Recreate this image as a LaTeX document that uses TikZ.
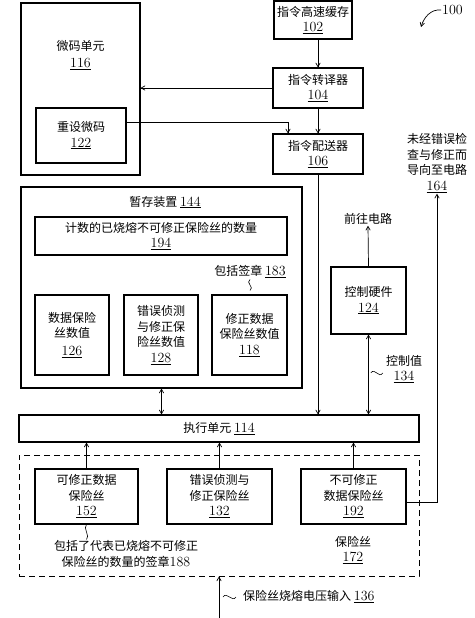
\documentclass[tikz,border=0pt]{standalone}
\usepackage{fontspec}
\newfontfamily\cjk{Noto Sans CJK SC}
\usetikzlibrary{arrows,positioning}
\newcommand{\refno}[1]{{\rmfamily\fontsize{14}{16}\selectfont\underline{#1}}}

\begin{document}
\begin{tikzpicture}[
        x=1pt, y=-1pt,
        box/.style={draw, line width=1.1pt, inner sep=1pt, align=center},
        txt/.style={align=center, inner sep=1pt},
        arrow/.style={->, >=angle 60, line width=0.7pt},
        darrow/.style={<->, >=angle 60, line width=0.7pt},
        squig/.style={line width=0.6pt},
        every node/.style={font=\cjk\fontsize{12}{15.5}\selectfont}
    ]
    \useasboundingbox (0,0) rectangle (474,618);

    % Microcode unit
    \node[box, minimum width=119, minimum height=172] (mc) at (80.5,89) {};
    \node[txt] (mctxt) at (80.5,55) {微码单元\\[2pt]\refno{116}};
    \node[box, minimum width=90, minimum height=55] (rmc) at (81,135.5) {重设微码\\\refno{122}};

    % Instruction path
    \node[box, minimum width=78, minimum height=38] (ic) at (313,20) {指令高速缓存\\\refno{102}};
    \node[box, minimum width=90, minimum height=40] (it) at (318,88) {指令转译器\\\refno{104}};
    \node[box, minimum width=90, minimum height=40] (id) at (318,154) {指令配送器\\\refno{106}};
    \node[txt, anchor=west] (lbl100) at (441,10) {\rmfamily\fontsize{14}{16}\selectfont 100};

    % Temporary storage
    \node[box, minimum width=281, minimum height=201] (ts) at (161.5,287.5) {};
    \node[txt] (tstxt) at (165,202) {暂存装置\ \refno{144}};
    \node[box, minimum width=252, minimum height=38] (cnt) at (161,236) {计数的已烧熔不可修正保险丝的数量\\\refno{194}};
    \node[box, minimum width=74, minimum height=80] (f126) at (72,335) {数据保险\\丝数值\\[2pt]\refno{126}};
    \node[box, minimum width=74, minimum height=80] (f128) at (161,335) {错误侦测\\与修正保\\险丝数值\\\refno{128}};
    \node[box, minimum width=75, minimum height=80] (f118) at (249.5,335) {修正数据\\保险丝数值\\\refno{118}};
    \node[txt] (sig183) at (250,272) {包括签章\ \refno{183}};

    % Control hardware
    \node[box, minimum width=75, minimum height=67] (ch) at (368.5,300.5) {控制硬件\\\refno{124}};
    \node[txt] (tocirc) at (368,219) {前往电路};
    \node[txt] (unchk) at (437,163) {未经错误检\\查与修正而\\导向至电路\\\refno{164}};
    \node[txt] (ctl134) at (404,369) {控制值\\\refno{134}};

    % Execution unit
    \node[box, minimum width=400, minimum height=27] (eu) at (219,428.5) {执行单元\ \refno{114}};

    % Fuses
    \node[draw, dash pattern=on 6pt off 4pt, line width=0.9pt, minimum width=400, minimum height=121] (fuse) at (219,515.5) {};
    \node[box, minimum width=103, minimum height=55] (f152) at (86.5,496.5) {可修正数据\\保险丝\\\refno{152}};
    \node[box, minimum width=105, minimum height=55] (f132) at (219.5,496.5) {错误侦测与\\修正保险丝\\\refno{132}};
    \node[box, minimum width=105, minimum height=55] (f192) at (353.5,496.5) {不可修正\\数据保险丝\\\refno{192}};
    \node[txt] (fusetxt) at (353,550) {保险丝\\\refno{172}};
    \node[txt] (sig188) at (126,554) {包括了代表已烧熔不可修正\\保险丝的数量的签章{\rmfamily\fontsize{14}{16}\selectfont 188}};
    \node[txt, anchor=west] (in136) at (242,597) {保险丝烧熔电压输入\ \refno{136}};
    \coordinate (vin) at (219,618);

    % Connections
    \draw[arrow] (ic.south -| it.north) -- (it.north);
    \draw[arrow] (it.west) -- (it.west -| mc.east);
    \draw[arrow] ([yshift=13.5pt]rmc.east) -| ([xshift=-30pt]id.north);
    \draw[arrow] (it.south) -- (id.north);
    \draw[arrow] (id.south) -- (id.south |- eu.north);
    \draw[darrow] (ts.south) -- (ts.south |- eu.north);
    \draw[arrow] (ch.north) -- (tocirc.south);
    \draw[darrow] (ch.south) -- (ch.south |- eu.north);
    \draw[arrow] ([yshift=-5.5pt]f192.east) -| (unchk.south);
    \draw[arrow] (f152.north) -- (f152.north |- eu.south);
    \draw[arrow] (f132.north) -- (f132.north |- eu.south);
    \draw[arrow] (f192.north) -- (f192.north |- eu.south);
    \draw[arrow] (vin) -- (vin |- fuse.south);
    \draw[arrow] (lbl100.west) .. controls (431,9) and (424,17) .. (421,27);

    % Label ties
    \draw[squig] (sig183.south) .. controls +(-5,3) and +(5,-3) .. ++(0,11);
    \draw[squig] (f152.south) .. controls +(-4,3) and +(4,-3) .. (f152.south |- sig188.north);
    \draw[squig] ([xshift=-14pt,yshift=-4pt]ctl134.west) .. controls +(4,-6) and +(-4,6) .. ([xshift=-2pt,yshift=-4pt]ctl134.west);
    \draw[squig] ([xshift=-19pt]in136.west) .. controls +(4,-6) and +(-4,6) .. ([xshift=-6pt]in136.west);

\end{tikzpicture}
\end{document}
